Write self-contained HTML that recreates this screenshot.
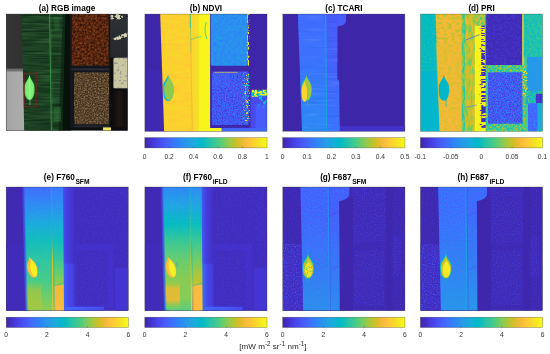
<!DOCTYPE html>
<html><head><meta charset="utf-8"><title>Figure</title>
<style>
html,body{margin:0;padding:0;background:#fff;}
body{width:550px;height:354px;overflow:hidden;position:relative;font-family:"Liberation Sans",sans-serif;}
svg{position:absolute;left:0;top:0;display:block;}
text{font-family:"Liberation Sans",sans-serif;}
.t{font-weight:bold;font-size:8.2px;fill:#000;text-anchor:middle;}
.k{font-size:6.7px;fill:#333;text-anchor:middle;}
.u{font-size:8.1px;fill:#262626;text-anchor:middle;}
</style></head><body>
<svg width="550" height="354" viewBox="0 0 550 354">
<defs>
<clipPath id="c10"><rect x="6.20" y="14.05" width="121.50" height="116.60"/></clipPath>
<clipPath id="c20"><rect x="6.20" y="187.00" width="122.20" height="123.70"/></clipPath>
<clipPath id="c11"><rect x="144.80" y="14.05" width="122.20" height="117.35"/></clipPath>
<clipPath id="c21"><rect x="144.80" y="187.00" width="122.20" height="123.70"/></clipPath>
<clipPath id="c12"><rect x="282.70" y="14.05" width="122.20" height="117.35"/></clipPath>
<clipPath id="c22"><rect x="282.70" y="187.00" width="122.20" height="123.70"/></clipPath>
<clipPath id="c13"><rect x="420.40" y="14.05" width="122.20" height="117.35"/></clipPath>
<clipPath id="c23"><rect x="420.40" y="187.00" width="122.20" height="123.70"/></clipPath>
<linearGradient id="g1" x1="0" y1="0" x2="1" y2="0"><stop offset="0.000" stop-color="#353535"/><stop offset="1.000" stop-color="#303030"/></linearGradient>
<linearGradient id="g2" x1="0" y1="0" x2="1" y2="0"><stop offset="0.000" stop-color="#a4a4a4"/><stop offset="0.500" stop-color="#a9a9a9"/><stop offset="1.000" stop-color="#adadad"/></linearGradient>
<filter id="n3" x="0" y="0" width="1" height="1" color-interpolation-filters="sRGB"><feTurbulence type="fractalNoise" baseFrequency="0.03 0.55" numOctaves="2" seed="4"/><feColorMatrix type="matrix" values="1 0 0 0 0 1 0 0 0 0 1 0 0 0 0 0 0 0 0 1"/><feComponentTransfer><feFuncR type="table" tableValues="0.078 0.078 0.078 0.078 0.078 0.086 0.094 0.102 0.110 0.124 0.137 0.151 0.165 0.165 0.165 0.165 0.165"/><feFuncG type="table" tableValues="0.188 0.188 0.188 0.188 0.188 0.203 0.218 0.232 0.247 0.270 0.292 0.315 0.337 0.337 0.337 0.337 0.337"/><feFuncB type="table" tableValues="0.102 0.102 0.102 0.102 0.102 0.110 0.118 0.125 0.133 0.148 0.163 0.177 0.192 0.192 0.192 0.192 0.192"/></feComponentTransfer><feComposite operator="in" in2="SourceGraphic"/></filter>
<filter id="n4" x="0" y="0" width="1" height="1" color-interpolation-filters="sRGB"><feTurbulence type="fractalNoise" baseFrequency="0.03 0.45" numOctaves="2" seed="9"/><feColorMatrix type="matrix" values="1 0 0 0 0 1 0 0 0 0 1 0 0 0 0 0 0 0 0 1"/><feComponentTransfer><feFuncR type="table" tableValues="0.082 0.082 0.082 0.082 0.082 0.090 0.098 0.106 0.114 0.125 0.137 0.149 0.161 0.161 0.161 0.161 0.161"/><feFuncG type="table" tableValues="0.196 0.196 0.196 0.196 0.196 0.212 0.227 0.243 0.259 0.280 0.302 0.324 0.345 0.345 0.345 0.345 0.345"/><feFuncB type="table" tableValues="0.106 0.106 0.106 0.106 0.106 0.115 0.124 0.132 0.141 0.155 0.169 0.182 0.196 0.196 0.196 0.196 0.196"/></feComponentTransfer><feComposite operator="in" in2="SourceGraphic"/></filter>
<filter id="n5" x="0" y="0" width="1" height="1" color-interpolation-filters="sRGB"><feTurbulence type="fractalNoise" baseFrequency="0.45 0.45" numOctaves="3" seed="2"/><feColorMatrix type="matrix" values="1 0 0 0 0 1 0 0 0 0 1 0 0 0 0 0 0 0 0 1"/><feComponentTransfer><feFuncR type="table" tableValues="0.173 0.173 0.173 0.173 0.201 0.237 0.273 0.309 0.345 0.383 0.420 0.458 0.495 0.525 0.525 0.525 0.525"/><feFuncG type="table" tableValues="0.067 0.067 0.067 0.067 0.080 0.098 0.115 0.132 0.149 0.171 0.193 0.215 0.237 0.255 0.255 0.255 0.255"/><feFuncB type="table" tableValues="0.027 0.027 0.027 0.027 0.033 0.039 0.046 0.052 0.059 0.072 0.085 0.098 0.111 0.122 0.122 0.122 0.122"/></feComponentTransfer><feComposite operator="in" in2="SourceGraphic"/></filter>
<filter id="n6" x="0" y="0" width="1" height="1" color-interpolation-filters="sRGB"><feTurbulence type="fractalNoise" baseFrequency="0.7 0.7" numOctaves="3" seed="5"/><feColorMatrix type="matrix" values="1 0 0 0 0 1 0 0 0 0 1 0 0 0 0 0 0 0 0 1"/><feComponentTransfer><feFuncR type="table" tableValues="0.200 0.200 0.200 0.200 0.225 0.256 0.287 0.318 0.349 0.393 0.437 0.481 0.525 0.561 0.561 0.561 0.561"/><feFuncG type="table" tableValues="0.149 0.149 0.149 0.149 0.169 0.193 0.218 0.242 0.267 0.305 0.343 0.382 0.420 0.451 0.451 0.451 0.451"/><feFuncB type="table" tableValues="0.102 0.102 0.102 0.102 0.114 0.128 0.143 0.158 0.173 0.202 0.231 0.261 0.290 0.314 0.314 0.314 0.314"/></feComponentTransfer><feComposite operator="in" in2="SourceGraphic"/></filter>
<linearGradient id="g7" x1="0" y1="0" x2="0" y2="1"><stop offset="0.000" stop-color="#2e3136"/><stop offset="1.000" stop-color="#26282d"/></linearGradient>
<filter id="s8" x="0" y="0" width="1" height="1" color-interpolation-filters="sRGB"><feTurbulence type="fractalNoise" baseFrequency="0.3 0.5" numOctaves="2" seed="7"/><feColorMatrix type="matrix" values="0 0 0 0 0.137 0 0 0 0 0.145 0 0 0 0 0.165 9.00 0 0 0 -4.50"/><feComposite operator="in" in2="SourceGraphic"/></filter>
<filter id="s9" x="0" y="0" width="1" height="1" color-interpolation-filters="sRGB"><feTurbulence type="fractalNoise" baseFrequency="0.4 0.5" numOctaves="2" seed="17"/><feColorMatrix type="matrix" values="0 0 0 0 0.149 0 0 0 0 0.157 0 0 0 0 0.176 9.00 0 0 0 -4.68"/><feComposite operator="in" in2="SourceGraphic"/></filter>
<filter id="s10" x="0" y="0" width="1" height="1" color-interpolation-filters="sRGB"><feTurbulence type="fractalNoise" baseFrequency="0.4 0.4" numOctaves="1" seed="3"/><feColorMatrix type="matrix" values="0 0 0 0 0.604 0 0 0 0 0.612 0 0 0 0 0.565 6.00 0 0 0 -3.36"/><feComposite operator="in" in2="SourceGraphic"/></filter>
<linearGradient id="g11" x1="0" y1="0" x2="1" y2="0"><stop offset="0.000" stop-color="#0c0c10"/><stop offset="0.450" stop-color="#1f1711"/><stop offset="1.000" stop-color="#0c0c10"/></linearGradient>
<clipPath id="lb"><polygon points="161.54,14.05 204.80,14.05 204.80,131.40 164.23,131.40"/></clipPath>
<filter id="n12" x="0" y="0" width="1" height="1" color-interpolation-filters="sRGB"><feTurbulence type="fractalNoise" baseFrequency="0.06 0.3" numOctaves="2" seed="3"/><feColorMatrix type="matrix" values="1 0 0 0 0 1 0 0 0 0 1 0 0 0 0 0 0 0 0 1"/><feComponentTransfer><feFuncR type="table" tableValues="0.996 0.996 0.996 0.996 0.996 0.994 0.992 0.990 0.988 0.985 0.982 0.979 0.976 0.976 0.976 0.976 0.976"/><feFuncG type="table" tableValues="0.792 0.792 0.792 0.792 0.792 0.799 0.806 0.813 0.820 0.826 0.833 0.840 0.847 0.847 0.847 0.847 0.847"/><feFuncB type="table" tableValues="0.200 0.200 0.200 0.200 0.200 0.196 0.192 0.188 0.184 0.181 0.178 0.175 0.173 0.173 0.173 0.173 0.173"/></feComponentTransfer><feComposite operator="in" in2="SourceGraphic"/></filter>
<linearGradient id="g13" x1="0" y1="0" x2="1" y2="0"><stop offset="0.000" stop-color="#fad42e"/><stop offset="0.700" stop-color="#f6de29"/><stop offset="1.000" stop-color="#f5ec22"/></linearGradient>
<filter id="n14" x="0" y="0" width="1" height="1" color-interpolation-filters="sRGB"><feTurbulence type="fractalNoise" baseFrequency="0.35 0.35" numOctaves="2" seed="6"/><feColorMatrix type="matrix" values="1 0 0 0 0 1 0 0 0 0 1 0 0 0 0 0 0 0 0 1"/><feComponentTransfer><feFuncR type="table" tableValues="0.180 0.180 0.180 0.180 0.180 0.180 0.177 0.175 0.173 0.164 0.155 0.147 0.145 0.145 0.145 0.145 0.145"/><feFuncG type="table" tableValues="0.522 0.522 0.522 0.522 0.522 0.524 0.536 0.549 0.561 0.577 0.593 0.609 0.612 0.612 0.612 0.612 0.612"/><feFuncB type="table" tableValues="0.973 0.973 0.973 0.973 0.973 0.971 0.962 0.954 0.945 0.933 0.921 0.908 0.906 0.906 0.906 0.906 0.906"/></feComponentTransfer><feComposite operator="in" in2="SourceGraphic"/></filter>
<filter id="n15" x="0" y="0" width="1" height="1" color-interpolation-filters="sRGB"><feTurbulence type="fractalNoise" baseFrequency="0.75 0.75" numOctaves="2" seed="8"/><feColorMatrix type="matrix" values="1 0 0 0 0 1 0 0 0 0 1 0 0 0 0 0 0 0 0 1"/><feComponentTransfer><feFuncR type="table" tableValues="0.271 0.271 0.271 0.271 0.271 0.273 0.275 0.277 0.278 0.257 0.236 0.215 0.194 0.184 0.184 0.184 0.184"/><feFuncG type="table" tableValues="0.212 0.212 0.212 0.212 0.225 0.252 0.279 0.306 0.333 0.372 0.410 0.449 0.487 0.506 0.506 0.506 0.506"/><feFuncB type="table" tableValues="0.827 0.827 0.827 0.827 0.842 0.873 0.903 0.934 0.965 0.968 0.972 0.975 0.979 0.980 0.980 0.980 0.980"/></feComponentTransfer><feComposite operator="in" in2="SourceGraphic"/></filter>
<filter id="s16" x="0" y="0" width="1" height="1" color-interpolation-filters="sRGB"><feTurbulence type="fractalNoise" baseFrequency="0.7 0.5" numOctaves="1" seed="5"/><feColorMatrix type="matrix" values="0 0 0 0 0.961 0 0 0 0 0.910 0 0 0 0 0.145 10.00 0 0 0 -5.00"/><feComposite operator="in" in2="SourceGraphic"/></filter>
<filter id="s17" x="0" y="0" width="1" height="1" color-interpolation-filters="sRGB"><feTurbulence type="fractalNoise" baseFrequency="0.6 0.6" numOctaves="1" seed="11"/><feColorMatrix type="matrix" values="0 0 0 0 0.980 0 0 0 0 0.831 0 0 0 0 0.180 10.00 0 0 0 -5.60"/><feComposite operator="in" in2="SourceGraphic"/></filter>
<filter id="s18" x="0" y="0" width="1" height="1" color-interpolation-filters="sRGB"><feTurbulence type="fractalNoise" baseFrequency="0.6 0.6" numOctaves="1" seed="17"/><feColorMatrix type="matrix" values="0 0 0 0 0.071 0 0 0 0 0.745 0 0 0 0 0.725 10.00 0 0 0 -5.60"/><feComposite operator="in" in2="SourceGraphic"/></filter>
<filter id="s19" x="0" y="0" width="1" height="1" color-interpolation-filters="sRGB"><feTurbulence type="fractalNoise" baseFrequency="0.4 0.5" numOctaves="1" seed="4"/><feColorMatrix type="matrix" values="0 0 0 0 0.965 0 0 0 0 0.941 0 0 0 0 0.125 9.00 0 0 0 -4.05"/><feComposite operator="in" in2="SourceGraphic"/></filter>
<filter id="s20" x="0" y="0" width="1" height="1" color-interpolation-filters="sRGB"><feTurbulence type="fractalNoise" baseFrequency="0.3 0.3" numOctaves="1" seed="9"/><feColorMatrix type="matrix" values="0 0 0 0 0.082 0 0 0 0 0.686 0 0 0 0 0.851 8.00 0 0 0 -4.00"/><feComposite operator="in" in2="SourceGraphic"/></filter>
<clipPath id="lc"><polygon points="299.20,14.05 342.70,14.05 342.70,131.40 302.01,131.40"/></clipPath>
<clipPath id="lcc"><polygon points="297.85,14.05 337.32,14.05 339.65,131.40 302.01,131.40"/></clipPath>
<linearGradient id="g21" x1="0" y1="0" x2="0" y2="1"><stop offset="0.000" stop-color="#475cfa"/><stop offset="0.500" stop-color="#4465fd"/><stop offset="1.000" stop-color="#3876fe"/></linearGradient>
<linearGradient id="g22" x1="0" y1="0" x2="0" y2="1"><stop offset="0.000" stop-color="#406cfe"/><stop offset="0.450" stop-color="#3974fe"/><stop offset="0.750" stop-color="#2f81fa"/><stop offset="1.000" stop-color="#2d8af4"/></linearGradient>
<filter id="s23" x="0" y="0" width="1" height="1" color-interpolation-filters="sRGB"><feTurbulence type="fractalNoise" baseFrequency="0.04 0.45" numOctaves="2" seed="3"/><feColorMatrix type="matrix" values="0 0 0 0 1.000 0 0 0 0 1.000 0 0 0 0 1.000 2.00 0 0 0 -1.00"/><feComposite operator="in" in2="SourceGraphic"/></filter>
<filter id="s24" x="0" y="0" width="1" height="1" color-interpolation-filters="sRGB"><feTurbulence type="fractalNoise" baseFrequency="0.04 0.45" numOctaves="2" seed="13"/><feColorMatrix type="matrix" values="0 0 0 0 0.125 0 0 0 0 0.125 0 0 0 0 0.627 2.00 0 0 0 -1.00"/><feComposite operator="in" in2="SourceGraphic"/></filter>
<clipPath id="ld"><polygon points="436.65,14.05 480.40,14.05 480.40,131.40 439.59,131.40"/></clipPath>
<filter id="n25" x="0" y="0" width="1" height="1" color-interpolation-filters="sRGB"><feTurbulence type="fractalNoise" baseFrequency="0.5 0.5" numOctaves="1" seed="2"/><feColorMatrix type="matrix" values="1 0 0 0 0 1 0 0 0 0 1 0 0 0 0 0 0 0 0 1"/><feComponentTransfer><feFuncR type="table" tableValues="0.004 0.004 0.004 0.004 0.004 0.005 0.013 0.020 0.027 0.046 0.064 0.083 0.086 0.086 0.086 0.086 0.086"/><feFuncG type="table" tableValues="0.722 0.722 0.722 0.722 0.722 0.723 0.727 0.732 0.737 0.741 0.745 0.748 0.749 0.749 0.749 0.749 0.749"/><feFuncB type="table" tableValues="0.784 0.784 0.784 0.784 0.784 0.782 0.773 0.763 0.753 0.742 0.731 0.720 0.718 0.718 0.718 0.718 0.718"/></feComponentTransfer><feComposite operator="in" in2="SourceGraphic"/></filter>
<filter id="n26" x="0" y="0" width="1" height="1" color-interpolation-filters="sRGB"><feTurbulence type="fractalNoise" baseFrequency="0.5 0.5" numOctaves="1" seed="3"/><feColorMatrix type="matrix" values="1 0 0 0 0 1 0 0 0 0 1 0 0 0 0 0 0 0 0 1"/><feComponentTransfer><feFuncR type="table" tableValues="0.039 0.039 0.039 0.039 0.039 0.037 0.029 0.020 0.012 0.009 0.007 0.004 0.004 0.004 0.004 0.004 0.004"/><feFuncG type="table" tableValues="0.706 0.706 0.706 0.706 0.706 0.707 0.710 0.714 0.718 0.720 0.723 0.725 0.725 0.725 0.725 0.725 0.725"/><feFuncB type="table" tableValues="0.824 0.824 0.824 0.824 0.824 0.822 0.815 0.807 0.800 0.793 0.785 0.778 0.776 0.776 0.776 0.776 0.776"/></feComponentTransfer><feComposite operator="in" in2="SourceGraphic"/></filter>
<filter id="n28" x="0" y="0" width="1" height="1" color-interpolation-filters="sRGB"><feTurbulence type="fractalNoise" baseFrequency="0.25 0.4" numOctaves="2" seed="5"/><feColorMatrix type="matrix" values="1 0 0 0 0 1 0 0 0 0 1 0 0 0 0 0 0 0 0 1"/><feComponentTransfer><feFuncR type="table" tableValues="0.690 0.690 0.690 0.690 0.690 0.770 0.850 0.897 0.922 0.944 0.957 0.970 0.973 0.973 0.973 0.973 0.973"/><feFuncG type="table" tableValues="0.776 0.776 0.776 0.776 0.776 0.760 0.744 0.735 0.732 0.729 0.729 0.729 0.729 0.729 0.729 0.729 0.729"/><feFuncB type="table" tableValues="0.212 0.212 0.212 0.212 0.212 0.194 0.176 0.179 0.197 0.214 0.225 0.237 0.239 0.239 0.239 0.239 0.239"/></feComponentTransfer><feComposite operator="in" in2="SourceGraphic"/></filter>
<linearGradient id="g29" x1="0" y1="0" x2="0" y2="1"><stop offset="0.000" stop-color="#eaba31"/><stop offset="1.000" stop-color="#f5ba3a"/></linearGradient>
<filter id="n30" x="0" y="0" width="1" height="1" color-interpolation-filters="sRGB"><feTurbulence type="fractalNoise" baseFrequency="0.5 0.15" numOctaves="2" seed="8"/><feColorMatrix type="matrix" values="1 0 0 0 0 1 0 0 0 0 1 0 0 0 0 0 0 0 0 1"/><feComponentTransfer><feFuncR type="table" tableValues="0.173 0.173 0.173 0.173 0.173 0.183 0.237 0.291 0.345 0.432 0.519 0.606 0.624 0.624 0.624 0.624 0.624"/><feFuncG type="table" tableValues="0.769 0.769 0.769 0.769 0.769 0.771 0.780 0.790 0.800 0.796 0.793 0.789 0.788 0.788 0.788 0.788 0.788"/><feFuncB type="table" tableValues="0.655 0.655 0.655 0.655 0.655 0.644 0.587 0.531 0.475 0.407 0.340 0.272 0.259 0.259 0.259 0.259 0.259"/></feComponentTransfer><feComposite operator="in" in2="SourceGraphic"/></filter>
<filter id="n31" x="0" y="0" width="1" height="1" color-interpolation-filters="sRGB"><feTurbulence type="fractalNoise" baseFrequency="0.45 0.12" numOctaves="2" seed="15"/><feColorMatrix type="matrix" values="1 0 0 0 0 1 0 0 0 0 1 0 0 0 0 0 0 0 0 1"/><feComponentTransfer><feFuncR type="table" tableValues="0.408 0.408 0.408 0.408 0.408 0.463 0.570 0.672 0.751 0.830 0.869 0.901 0.918 0.918 0.918 0.918 0.918"/><feFuncG type="table" tableValues="0.804 0.804 0.804 0.804 0.804 0.799 0.789 0.778 0.763 0.748 0.740 0.733 0.729 0.729 0.729 0.729 0.729"/><feFuncB type="table" tableValues="0.420 0.420 0.420 0.420 0.420 0.378 0.298 0.226 0.194 0.162 0.169 0.184 0.192 0.192 0.192 0.192 0.192"/></feComponentTransfer><feComposite operator="in" in2="SourceGraphic"/></filter>
<filter id="n32" x="0" y="0" width="1" height="1" color-interpolation-filters="sRGB"><feTurbulence type="fractalNoise" baseFrequency="0.4 0.4" numOctaves="2" seed="25"/><feColorMatrix type="matrix" values="1 0 0 0 0 1 0 0 0 0 1 0 0 0 0 0 0 0 0 1"/><feComponentTransfer><feFuncR type="table" tableValues="0.282 0.282 0.282 0.282 0.282 0.304 0.410 0.517 0.624 0.715 0.807 0.899 0.918 0.918 0.918 0.918 0.918"/><feFuncG type="table" tableValues="0.796 0.796 0.796 0.796 0.796 0.796 0.793 0.791 0.788 0.770 0.751 0.733 0.729 0.729 0.729 0.729 0.729"/><feFuncB type="table" tableValues="0.525 0.525 0.525 0.525 0.525 0.509 0.425 0.342 0.259 0.238 0.217 0.196 0.192 0.192 0.192 0.192 0.192"/></feComponentTransfer><feComposite operator="in" in2="SourceGraphic"/></filter>
<filter id="n33" x="0" y="0" width="1" height="1" color-interpolation-filters="sRGB"><feTurbulence type="fractalNoise" baseFrequency="0.3 0.3" numOctaves="1" seed="1"/><feColorMatrix type="matrix" values="1 0 0 0 0 1 0 0 0 0 1 0 0 0 0 0 0 0 0 1"/><feComponentTransfer><feFuncR type="table" tableValues="0.965 0.965 0.965 0.965 0.965 0.965 0.965 0.966 0.967 0.967 0.968 0.969 0.969 0.969 0.969 0.969 0.969"/><feFuncG type="table" tableValues="0.941 0.941 0.941 0.941 0.941 0.942 0.945 0.948 0.951 0.954 0.957 0.960 0.961 0.961 0.961 0.961 0.961"/><feFuncB type="table" tableValues="0.125 0.125 0.125 0.125 0.125 0.125 0.122 0.119 0.116 0.113 0.110 0.106 0.106 0.106 0.106 0.106 0.106"/></feComponentTransfer><feComposite operator="in" in2="SourceGraphic"/></filter>
<filter id="s34" x="0" y="0" width="1" height="1" color-interpolation-filters="sRGB"><feTurbulence type="fractalNoise" baseFrequency="0.1 0.75" numOctaves="2" seed="21"/><feColorMatrix type="matrix" values="0 0 0 0 0.965 0 0 0 0 0.949 0 0 0 0 0.118 14.00 0 0 0 -6.86"/><feComposite operator="in" in2="SourceGraphic"/></filter>
<filter id="s35" x="0" y="0" width="1" height="1" color-interpolation-filters="sRGB"><feTurbulence type="fractalNoise" baseFrequency="0.25 0.7" numOctaves="2" seed="33"/><feColorMatrix type="matrix" values="0 0 0 0 0.259 0 0 0 0 0.180 0 0 0 0 0.745 12.00 0 0 0 -7.20"/><feComposite operator="in" in2="SourceGraphic"/></filter>
<filter id="n36" x="0" y="0" width="1" height="1" color-interpolation-filters="sRGB"><feTurbulence type="fractalNoise" baseFrequency="0.45 0.45" numOctaves="2" seed="4"/><feColorMatrix type="matrix" values="1 0 0 0 0 1 0 0 0 0 1 0 0 0 0 0 0 0 0 1"/><feComponentTransfer><feFuncR type="table" tableValues="0.247 0.247 0.247 0.247 0.247 0.250 0.253 0.255 0.258 0.261 0.264 0.266 0.269 0.271 0.271 0.271 0.271"/><feFuncG type="table" tableValues="0.157 0.157 0.157 0.157 0.157 0.162 0.168 0.174 0.179 0.186 0.193 0.201 0.208 0.212 0.212 0.212 0.212"/><feFuncB type="table" tableValues="0.682 0.682 0.682 0.682 0.682 0.697 0.712 0.727 0.742 0.760 0.779 0.799 0.818 0.827 0.827 0.827 0.827"/></feComponentTransfer><feComposite operator="in" in2="SourceGraphic"/></filter>
<filter id="n37" x="0" y="0" width="1" height="1" color-interpolation-filters="sRGB"><feTurbulence type="fractalNoise" baseFrequency="0.5 0.5" numOctaves="2" seed="14"/><feColorMatrix type="matrix" values="1 0 0 0 0 1 0 0 0 0 1 0 0 0 0 0 0 0 0 1"/><feComponentTransfer><feFuncR type="table" tableValues="0.071 0.071 0.071 0.071 0.071 0.084 0.150 0.216 0.282 0.410 0.537 0.665 0.690 0.690 0.690 0.690 0.690"/><feFuncG type="table" tableValues="0.745 0.745 0.745 0.745 0.745 0.748 0.764 0.780 0.796 0.790 0.784 0.778 0.776 0.776 0.776 0.776 0.776"/><feFuncB type="table" tableValues="0.725 0.725 0.725 0.725 0.725 0.713 0.650 0.588 0.525 0.427 0.329 0.231 0.212 0.212 0.212 0.212 0.212"/></feComponentTransfer><feComposite operator="in" in2="SourceGraphic"/></filter>
<filter id="n38" x="0" y="0" width="1" height="1" color-interpolation-filters="sRGB"><feTurbulence type="fractalNoise" baseFrequency="0.75 0.75" numOctaves="2" seed="6"/><feColorMatrix type="matrix" values="1 0 0 0 0 1 0 0 0 0 1 0 0 0 0 0 0 0 0 1"/><feComponentTransfer><feFuncR type="table" tableValues="0.271 0.271 0.271 0.271 0.271 0.273 0.275 0.277 0.278 0.256 0.233 0.210 0.187 0.176 0.176 0.176 0.176"/><feFuncG type="table" tableValues="0.212 0.212 0.212 0.212 0.226 0.256 0.286 0.315 0.345 0.387 0.429 0.471 0.513 0.533 0.533 0.533 0.533"/><feFuncB type="table" tableValues="0.827 0.827 0.827 0.827 0.843 0.875 0.908 0.940 0.973 0.971 0.969 0.967 0.966 0.965 0.965 0.965 0.965"/></feComponentTransfer><feComposite operator="in" in2="SourceGraphic"/></filter>
<filter id="n39" x="0" y="0" width="1" height="1" color-interpolation-filters="sRGB"><feTurbulence type="fractalNoise" baseFrequency="0.5 0.5" numOctaves="2" seed="2"/><feColorMatrix type="matrix" values="1 0 0 0 0 1 0 0 0 0 1 0 0 0 0 0 0 0 0 1"/><feComponentTransfer><feFuncR type="table" tableValues="0.027 0.027 0.027 0.027 0.027 0.035 0.070 0.106 0.141 0.162 0.183 0.204 0.208 0.208 0.208 0.208 0.208"/><feFuncG type="table" tableValues="0.737 0.737 0.737 0.737 0.737 0.739 0.746 0.753 0.761 0.767 0.773 0.779 0.780 0.780 0.780 0.780 0.780"/><feFuncB type="table" tableValues="0.753 0.753 0.753 0.753 0.753 0.749 0.726 0.704 0.682 0.658 0.633 0.609 0.604 0.604 0.604 0.604 0.604"/></feComponentTransfer><feComposite operator="in" in2="SourceGraphic"/></filter>
<filter id="n40" x="0" y="0" width="1" height="1" color-interpolation-filters="sRGB"><feTurbulence type="fractalNoise" baseFrequency="0.5 0.5" numOctaves="2" seed="9"/><feColorMatrix type="matrix" values="1 0 0 0 0 1 0 0 0 0 1 0 0 0 0 0 0 0 0 1"/><feComponentTransfer><feFuncR type="table" tableValues="0.165 0.165 0.165 0.165 0.165 0.164 0.159 0.154 0.149 0.144 0.139 0.134 0.133 0.133 0.133 0.133 0.133"/><feFuncG type="table" tableValues="0.573 0.573 0.573 0.573 0.573 0.574 0.583 0.591 0.600 0.610 0.620 0.629 0.631 0.631 0.631 0.631 0.631"/><feFuncB type="table" tableValues="0.933 0.933 0.933 0.933 0.933 0.932 0.927 0.923 0.918 0.910 0.903 0.896 0.894 0.894 0.894 0.894 0.894"/></feComponentTransfer><feComposite operator="in" in2="SourceGraphic"/></filter>
<filter id="n41" x="0" y="0" width="1" height="1" color-interpolation-filters="sRGB"><feTurbulence type="fractalNoise" baseFrequency="0.6 0.6" numOctaves="2" seed="10"/><feColorMatrix type="matrix" values="1 0 0 0 0 1 0 0 0 0 1 0 0 0 0 0 0 0 0 1"/><feComponentTransfer><feFuncR type="table" tableValues="0.145 0.145 0.145 0.145 0.145 0.140 0.117 0.094 0.071 0.156 0.242 0.328 0.345 0.345 0.345 0.345 0.345"/><feFuncG type="table" tableValues="0.612 0.612 0.612 0.612 0.612 0.620 0.662 0.703 0.745 0.762 0.779 0.797 0.800 0.800 0.800 0.800 0.800"/><feFuncB type="table" tableValues="0.906 0.906 0.906 0.906 0.906 0.895 0.838 0.782 0.725 0.647 0.569 0.490 0.475 0.475 0.475 0.475 0.475"/></feComponentTransfer><feComposite operator="in" in2="SourceGraphic"/></filter>
<filter id="n42" x="0" y="0" width="1" height="1" color-interpolation-filters="sRGB"><feTurbulence type="fractalNoise" baseFrequency="0.5 0.5" numOctaves="2" seed="19"/><feColorMatrix type="matrix" values="1 0 0 0 0 1 0 0 0 0 1 0 0 0 0 0 0 0 0 1"/><feComponentTransfer><feFuncR type="table" tableValues="0.278 0.278 0.278 0.278 0.278 0.277 0.270 0.262 0.255 0.233 0.211 0.189 0.184 0.184 0.184 0.184 0.184"/><feFuncG type="table" tableValues="0.361 0.361 0.361 0.361 0.361 0.364 0.383 0.401 0.420 0.447 0.474 0.500 0.506 0.506 0.506 0.506 0.506"/><feFuncB type="table" tableValues="0.980 0.980 0.980 0.980 0.980 0.981 0.986 0.991 0.996 0.991 0.986 0.981 0.980 0.980 0.980 0.980 0.980"/></feComponentTransfer><feComposite operator="in" in2="SourceGraphic"/></filter>
<filter id="n43" x="0" y="0" width="1" height="1" color-interpolation-filters="sRGB"><feTurbulence type="fractalNoise" baseFrequency="0.5 0.5" numOctaves="2" seed="29"/><feColorMatrix type="matrix" values="1 0 0 0 0 1 0 0 0 0 1 0 0 0 0 0 0 0 0 1"/><feComponentTransfer><feFuncR type="table" tableValues="0.141 0.141 0.141 0.141 0.141 0.138 0.125 0.112 0.098 0.069 0.039 0.010 0.004 0.004 0.004 0.004 0.004"/><feFuncG type="table" tableValues="0.624 0.624 0.624 0.624 0.624 0.627 0.644 0.661 0.678 0.693 0.708 0.723 0.725 0.725 0.725 0.725 0.725"/><feFuncB type="table" tableValues="0.902 0.902 0.902 0.902 0.902 0.900 0.887 0.875 0.863 0.836 0.809 0.782 0.776 0.776 0.776 0.776 0.776"/></feComponentTransfer><feComposite operator="in" in2="SourceGraphic"/></filter>
<filter id="s44" x="0" y="0" width="1" height="1" color-interpolation-filters="sRGB"><feTurbulence type="fractalNoise" baseFrequency="0.6 0.6" numOctaves="1" seed="11"/><feColorMatrix type="matrix" values="0 0 0 0 0.980 0 0 0 0 0.831 0 0 0 0 0.180 10.00 0 0 0 -5.20"/><feComposite operator="in" in2="SourceGraphic"/></filter>
<linearGradient id="g45" x1="0" y1="0" x2="1" y2="0"><stop offset="0.000" stop-color="#4755f6"/><stop offset="0.450" stop-color="#463ee1"/><stop offset="1.000" stop-color="#4230c3"/></linearGradient>
<linearGradient id="g46" x1="0" y1="0" x2="1" y2="0"><stop offset="0.000" stop-color="#3b72ff"/><stop offset="0.400" stop-color="#4747eb"/><stop offset="1.000" stop-color="#4433cc"/></linearGradient>
<filter id="n47" x="0" y="0" width="1" height="1" color-interpolation-filters="sRGB"><feTurbulence type="fractalNoise" baseFrequency="0.5 0.5" numOctaves="2" seed="3"/><feColorMatrix type="matrix" values="1 0 0 0 0 1 0 0 0 0 1 0 0 0 0 0 0 0 0 1"/><feComponentTransfer><feFuncR type="table" tableValues="0.255 0.255 0.255 0.255 0.255 0.255 0.256 0.258 0.259 0.260 0.261 0.263 0.263 0.263 0.263 0.263 0.263"/><feFuncG type="table" tableValues="0.173 0.173 0.173 0.173 0.173 0.173 0.175 0.178 0.180 0.185 0.190 0.195 0.196 0.196 0.196 0.196 0.196"/><feFuncB type="table" tableValues="0.725 0.725 0.725 0.725 0.725 0.727 0.736 0.744 0.753 0.764 0.775 0.786 0.788 0.788 0.788 0.788 0.788"/></feComponentTransfer><feComposite operator="in" in2="SourceGraphic"/></filter>
<filter id="n48" x="0" y="0" width="1" height="1" color-interpolation-filters="sRGB"><feTurbulence type="fractalNoise" baseFrequency="0.7 0.7" numOctaves="2" seed="13"/><feColorMatrix type="matrix" values="1 0 0 0 0 1 0 0 0 0 1 0 0 0 0 0 0 0 0 1"/><feComponentTransfer><feFuncR type="table" tableValues="0.255 0.255 0.255 0.255 0.255 0.255 0.256 0.258 0.259 0.261 0.264 0.266 0.267 0.267 0.267 0.267 0.267"/><feFuncG type="table" tableValues="0.173 0.173 0.173 0.173 0.173 0.173 0.177 0.181 0.184 0.190 0.197 0.203 0.204 0.204 0.204 0.204 0.204"/><feFuncB type="table" tableValues="0.725 0.725 0.725 0.725 0.725 0.727 0.737 0.747 0.757 0.773 0.789 0.805 0.808 0.808 0.808 0.808 0.808"/></feComponentTransfer><feComposite operator="in" in2="SourceGraphic"/></filter>
<linearGradient id="g49" x1="0" y1="0" x2="1" y2="0"><stop offset="0.000" stop-color="#4367fd"/><stop offset="1.000" stop-color="#484aee"/></linearGradient>
<linearGradient id="g50" x1="0" y1="0" x2="0" y2="1"><stop offset="0.000" stop-color="#406cfe"/><stop offset="0.150" stop-color="#2d8cf3"/><stop offset="0.300" stop-color="#1aabdd"/><stop offset="0.450" stop-color="#12beb9"/><stop offset="0.600" stop-color="#31c6a0"/><stop offset="0.750" stop-color="#44cb89"/><stop offset="0.900" stop-color="#71cd64"/><stop offset="1.000" stop-color="#8dcb4f"/></linearGradient>
<linearGradient id="g51" x1="0" y1="0" x2="0" y2="1"><stop offset="0.000" stop-color="#9fc942" stop-opacity="0.00"/><stop offset="0.300" stop-color="#c4c22a" stop-opacity="0.50"/><stop offset="0.800" stop-color="#c4c22a" stop-opacity="0.50"/><stop offset="1.000" stop-color="#b0c636" stop-opacity="0.30"/></linearGradient>
<linearGradient id="g52" x1="0" y1="0" x2="0" y2="1"><stop offset="0.000" stop-color="#3876fe"/><stop offset="0.150" stop-color="#2c8ff1"/><stop offset="0.300" stop-color="#19addc"/><stop offset="0.450" stop-color="#12beb9"/><stop offset="0.600" stop-color="#39c895"/><stop offset="0.700" stop-color="#68cd6b"/><stop offset="0.790" stop-color="#96ca48"/><stop offset="0.795" stop-color="#f0ba36"/><stop offset="1.000" stop-color="#fabb3d"/></linearGradient>
<linearGradient id="g53" x1="0" y1="0" x2="0" y2="1"><stop offset="0.000" stop-color="#484aee"/><stop offset="1.000" stop-color="#2d8cf3"/></linearGradient>
<filter id="s54" x="0" y="0" width="1" height="1" color-interpolation-filters="sRGB"><feTurbulence type="fractalNoise" baseFrequency="0.8 0.8" numOctaves="1" seed="5"/><feColorMatrix type="matrix" values="0 0 0 0 1.000 0 0 0 0 1.000 0 0 0 0 1.000 0.90 0 0 0 -0.45"/><feComposite operator="in" in2="SourceGraphic"/></filter>
<linearGradient id="g55" x1="0" y1="0" x2="0" y2="1"><stop offset="0.000" stop-color="#2895ec"/><stop offset="0.400" stop-color="#21c1b0"/><stop offset="0.600" stop-color="#d0c027"/><stop offset="1.000" stop-color="#fec835"/></linearGradient>
<linearGradient id="g56" x1="0" y1="0" x2="1" y2="0"><stop offset="0.000" stop-color="#416bfe"/><stop offset="0.450" stop-color="#463ee1"/><stop offset="1.000" stop-color="#4230c3"/></linearGradient>
<linearGradient id="g57" x1="0" y1="0" x2="1" y2="0"><stop offset="0.000" stop-color="#2d88f6"/><stop offset="0.400" stop-color="#4747eb"/><stop offset="1.000" stop-color="#4433cc"/></linearGradient>
<filter id="n58" x="0" y="0" width="1" height="1" color-interpolation-filters="sRGB"><feTurbulence type="fractalNoise" baseFrequency="0.5 0.5" numOctaves="2" seed="4"/><feColorMatrix type="matrix" values="1 0 0 0 0 1 0 0 0 0 1 0 0 0 0 0 0 0 0 1"/><feComponentTransfer><feFuncR type="table" tableValues="0.255 0.255 0.255 0.255 0.255 0.255 0.256 0.258 0.259 0.260 0.261 0.263 0.263 0.263 0.263 0.263 0.263"/><feFuncG type="table" tableValues="0.173 0.173 0.173 0.173 0.173 0.173 0.175 0.178 0.180 0.185 0.190 0.195 0.196 0.196 0.196 0.196 0.196"/><feFuncB type="table" tableValues="0.725 0.725 0.725 0.725 0.725 0.727 0.736 0.744 0.753 0.764 0.775 0.786 0.788 0.788 0.788 0.788 0.788"/></feComponentTransfer><feComposite operator="in" in2="SourceGraphic"/></filter>
<filter id="n59" x="0" y="0" width="1" height="1" color-interpolation-filters="sRGB"><feTurbulence type="fractalNoise" baseFrequency="0.7 0.7" numOctaves="2" seed="14"/><feColorMatrix type="matrix" values="1 0 0 0 0 1 0 0 0 0 1 0 0 0 0 0 0 0 0 1"/><feComponentTransfer><feFuncR type="table" tableValues="0.255 0.255 0.255 0.255 0.255 0.255 0.256 0.258 0.259 0.261 0.264 0.266 0.267 0.267 0.267 0.267 0.267"/><feFuncG type="table" tableValues="0.173 0.173 0.173 0.173 0.173 0.173 0.177 0.181 0.184 0.190 0.197 0.203 0.204 0.204 0.204 0.204 0.204"/><feFuncB type="table" tableValues="0.725 0.725 0.725 0.725 0.725 0.727 0.737 0.747 0.757 0.773 0.789 0.805 0.808 0.808 0.808 0.808 0.808"/></feComponentTransfer><feComposite operator="in" in2="SourceGraphic"/></filter>
<linearGradient id="g60" x1="0" y1="0" x2="1" y2="0"><stop offset="0.000" stop-color="#4367fd"/><stop offset="1.000" stop-color="#484aee"/></linearGradient>
<linearGradient id="g61" x1="0" y1="0" x2="0" y2="1"><stop offset="0.000" stop-color="#2d88f6"/><stop offset="0.150" stop-color="#20a4e3"/><stop offset="0.300" stop-color="#04bbc2"/><stop offset="0.450" stop-color="#3bc992"/><stop offset="0.600" stop-color="#68cd6b"/><stop offset="0.750" stop-color="#88cb53"/><stop offset="0.900" stop-color="#84cc56"/><stop offset="1.000" stop-color="#58cc79"/></linearGradient>
<linearGradient id="g62" x1="0" y1="0" x2="0" y2="1"><stop offset="0.000" stop-color="#b0c636" stop-opacity="0.00"/><stop offset="0.250" stop-color="#eaba31" stop-opacity="0.90"/><stop offset="0.650" stop-color="#eaba31" stop-opacity="0.90"/><stop offset="0.900" stop-color="#9fc942" stop-opacity="0.20"/><stop offset="1.000" stop-color="#58cc79" stop-opacity="0.00"/></linearGradient>
<linearGradient id="g63" x1="0" y1="0" x2="0" y2="1"><stop offset="0.000" stop-color="#2d8cf3"/><stop offset="0.150" stop-color="#1ea7e1"/><stop offset="0.300" stop-color="#0abdbd"/><stop offset="0.450" stop-color="#3bc992"/><stop offset="0.600" stop-color="#76cc61"/><stop offset="0.700" stop-color="#a8c73b"/><stop offset="0.790" stop-color="#c4c22a"/><stop offset="0.795" stop-color="#f8ba3d"/><stop offset="1.000" stop-color="#fdbd3d"/></linearGradient>
<linearGradient id="g64" x1="0" y1="0" x2="0" y2="1"><stop offset="0.000" stop-color="#484aee"/><stop offset="1.000" stop-color="#2d8cf3"/></linearGradient>
<filter id="s65" x="0" y="0" width="1" height="1" color-interpolation-filters="sRGB"><feTurbulence type="fractalNoise" baseFrequency="0.8 0.8" numOctaves="1" seed="6"/><feColorMatrix type="matrix" values="0 0 0 0 1.000 0 0 0 0 1.000 0 0 0 0 1.000 0.90 0 0 0 -0.45"/><feComposite operator="in" in2="SourceGraphic"/></filter>
<linearGradient id="g66" x1="0" y1="0" x2="0" y2="1"><stop offset="0.000" stop-color="#1ea7e1"/><stop offset="0.400" stop-color="#3bc992"/><stop offset="0.600" stop-color="#d0c027"/><stop offset="1.000" stop-color="#fec835"/></linearGradient>
<clipPath id="lf2"><polygon points="300.42,187.00 339.40,187.00 339.65,310.70 303.23,310.70"/></clipPath>
<clipPath id="lf3"><polygon points="438.12,187.00 477.10,187.00 477.35,310.70 440.93,310.70"/></clipPath>
<filter id="n67" x="0" y="0" width="1" height="1" color-interpolation-filters="sRGB"><feTurbulence type="fractalNoise" baseFrequency="0.9 0.9" numOctaves="1" seed="5"/><feColorMatrix type="matrix" values="1 0 0 0 0 1 0 0 0 0 1 0 0 0 0 0 0 0 0 1"/><feComponentTransfer><feFuncR type="table" tableValues="0.243 0.243 0.243 0.243 0.243 0.243 0.245 0.247 0.249 0.251 0.255 0.259 0.263 0.267 0.267 0.267 0.267"/><feFuncG type="table" tableValues="0.153 0.153 0.153 0.153 0.153 0.153 0.157 0.161 0.165 0.169 0.178 0.187 0.197 0.204 0.204 0.204 0.204"/><feFuncB type="table" tableValues="0.671 0.671 0.671 0.671 0.671 0.671 0.681 0.694 0.706 0.719 0.744 0.770 0.795 0.816 0.816 0.816 0.816"/></feComponentTransfer><feComposite operator="in" in2="SourceGraphic"/></filter>
<filter id="n68" x="0" y="0" width="1" height="1" color-interpolation-filters="sRGB"><feTurbulence type="fractalNoise" baseFrequency="0.9 0.9" numOctaves="1" seed="9"/><feColorMatrix type="matrix" values="1 0 0 0 0 1 0 0 0 0 1 0 0 0 0 0 0 0 0 1"/><feComponentTransfer><feFuncR type="table" tableValues="0.247 0.247 0.247 0.247 0.247 0.248 0.252 0.257 0.261 0.266 0.271 0.277 0.282 0.282 0.282 0.282 0.282"/><feFuncG type="table" tableValues="0.161 0.161 0.161 0.161 0.161 0.163 0.173 0.182 0.192 0.214 0.245 0.275 0.306 0.306 0.306 0.306 0.306"/><feFuncB type="table" tableValues="0.690 0.690 0.690 0.690 0.690 0.696 0.723 0.750 0.777 0.814 0.858 0.902 0.945 0.945 0.945 0.945 0.945"/></feComponentTransfer><feComposite operator="in" in2="SourceGraphic"/></filter>
<filter id="n69" x="0" y="0" width="1" height="1" color-interpolation-filters="sRGB"><feTurbulence type="fractalNoise" baseFrequency="0.9 0.9" numOctaves="1" seed="11"/><feColorMatrix type="matrix" values="1 0 0 0 0 1 0 0 0 0 1 0 0 0 0 0 0 0 0 1"/><feComponentTransfer><feFuncR type="table" tableValues="0.247 0.247 0.247 0.247 0.247 0.247 0.250 0.253 0.256 0.259 0.263 0.267 0.271 0.275 0.275 0.275 0.275"/><feFuncG type="table" tableValues="0.161 0.161 0.161 0.161 0.161 0.161 0.165 0.170 0.175 0.181 0.197 0.214 0.230 0.243 0.243 0.243 0.243"/><feFuncB type="table" tableValues="0.694 0.694 0.694 0.694 0.694 0.694 0.706 0.719 0.732 0.747 0.782 0.818 0.854 0.882 0.882 0.882 0.882"/></feComponentTransfer><feComposite operator="in" in2="SourceGraphic"/></filter>
<filter id="n70" x="0" y="0" width="1" height="1" color-interpolation-filters="sRGB"><feTurbulence type="fractalNoise" baseFrequency="0.7 0.7" numOctaves="1" seed="4"/><feColorMatrix type="matrix" values="1 0 0 0 0 1 0 0 0 0 1 0 0 0 0 0 0 0 0 1"/><feComponentTransfer><feFuncR type="table" tableValues="0.278 0.278 0.278 0.278 0.278 0.278 0.275 0.273 0.271 0.261 0.251 0.241 0.239 0.239 0.239 0.239 0.239"/><feFuncG type="table" tableValues="0.341 0.341 0.341 0.341 0.341 0.344 0.359 0.374 0.388 0.404 0.420 0.436 0.439 0.439 0.439 0.439 0.439"/><feFuncB type="table" tableValues="0.969 0.969 0.969 0.969 0.969 0.970 0.977 0.985 0.992 0.995 0.997 1.000 1.000 1.000 1.000 1.000 1.000"/></feComponentTransfer><feComposite operator="in" in2="SourceGraphic"/></filter>
<filter id="n71" x="0" y="0" width="1" height="1" color-interpolation-filters="sRGB"><feTurbulence type="fractalNoise" baseFrequency="0.7 0.7" numOctaves="1" seed="6"/><feColorMatrix type="matrix" values="1 0 0 0 0 1 0 0 0 0 1 0 0 0 0 0 0 0 0 1"/><feComponentTransfer><feFuncR type="table" tableValues="0.278 0.278 0.278 0.278 0.278 0.277 0.273 0.268 0.263 0.249 0.236 0.222 0.220 0.220 0.220 0.220 0.220"/><feFuncG type="table" tableValues="0.353 0.353 0.353 0.353 0.353 0.356 0.372 0.388 0.404 0.422 0.441 0.459 0.463 0.463 0.463 0.463 0.463"/><feFuncB type="table" tableValues="0.976 0.976 0.976 0.976 0.976 0.977 0.982 0.987 0.992 0.993 0.995 0.996 0.996 0.996 0.996 0.996 0.996"/></feComponentTransfer><feComposite operator="in" in2="SourceGraphic"/></filter>
<linearGradient id="g72" x1="0" y1="0" x2="0" y2="1"><stop offset="0.000" stop-color="#2d8cf3" stop-opacity="0.00"/><stop offset="0.500" stop-color="#2a92ee" stop-opacity="0.40"/><stop offset="1.000" stop-color="#249fe6" stop-opacity="0.70"/></linearGradient>
<filter id="s73" x="0" y="0" width="1" height="1" color-interpolation-filters="sRGB"><feTurbulence type="fractalNoise" baseFrequency="0.8 0.8" numOctaves="1" seed="41"/><feColorMatrix type="matrix" values="0 0 0 0 0.345 0 0 0 0 0.800 0 0 0 0 0.475 6.00 0 0 0 -3.00"/><feComposite operator="in" in2="SourceGraphic"/></filter>
<filter id="n74" x="0" y="0" width="1" height="1" color-interpolation-filters="sRGB"><feTurbulence type="fractalNoise" baseFrequency="0.9 0.9" numOctaves="1" seed="6"/><feColorMatrix type="matrix" values="1 0 0 0 0 1 0 0 0 0 1 0 0 0 0 0 0 0 0 1"/><feComponentTransfer><feFuncR type="table" tableValues="0.243 0.243 0.243 0.243 0.243 0.243 0.245 0.247 0.249 0.251 0.255 0.259 0.263 0.267 0.267 0.267 0.267"/><feFuncG type="table" tableValues="0.153 0.153 0.153 0.153 0.153 0.153 0.157 0.161 0.165 0.169 0.178 0.187 0.197 0.204 0.204 0.204 0.204"/><feFuncB type="table" tableValues="0.671 0.671 0.671 0.671 0.671 0.671 0.681 0.694 0.706 0.719 0.744 0.770 0.795 0.816 0.816 0.816 0.816"/></feComponentTransfer><feComposite operator="in" in2="SourceGraphic"/></filter>
<filter id="n75" x="0" y="0" width="1" height="1" color-interpolation-filters="sRGB"><feTurbulence type="fractalNoise" baseFrequency="0.9 0.9" numOctaves="1" seed="10"/><feColorMatrix type="matrix" values="1 0 0 0 0 1 0 0 0 0 1 0 0 0 0 0 0 0 0 1"/><feComponentTransfer><feFuncR type="table" tableValues="0.247 0.247 0.247 0.247 0.247 0.248 0.252 0.257 0.261 0.266 0.271 0.277 0.282 0.282 0.282 0.282 0.282"/><feFuncG type="table" tableValues="0.161 0.161 0.161 0.161 0.161 0.163 0.173 0.182 0.192 0.214 0.245 0.275 0.306 0.306 0.306 0.306 0.306"/><feFuncB type="table" tableValues="0.690 0.690 0.690 0.690 0.690 0.696 0.723 0.750 0.777 0.814 0.858 0.902 0.945 0.945 0.945 0.945 0.945"/></feComponentTransfer><feComposite operator="in" in2="SourceGraphic"/></filter>
<filter id="n76" x="0" y="0" width="1" height="1" color-interpolation-filters="sRGB"><feTurbulence type="fractalNoise" baseFrequency="0.9 0.9" numOctaves="1" seed="12"/><feColorMatrix type="matrix" values="1 0 0 0 0 1 0 0 0 0 1 0 0 0 0 0 0 0 0 1"/><feComponentTransfer><feFuncR type="table" tableValues="0.247 0.247 0.247 0.247 0.247 0.247 0.250 0.253 0.256 0.259 0.263 0.267 0.271 0.275 0.275 0.275 0.275"/><feFuncG type="table" tableValues="0.161 0.161 0.161 0.161 0.161 0.161 0.165 0.170 0.175 0.181 0.197 0.214 0.230 0.243 0.243 0.243 0.243"/><feFuncB type="table" tableValues="0.694 0.694 0.694 0.694 0.694 0.694 0.706 0.719 0.732 0.747 0.782 0.818 0.854 0.882 0.882 0.882 0.882"/></feComponentTransfer><feComposite operator="in" in2="SourceGraphic"/></filter>
<filter id="n77" x="0" y="0" width="1" height="1" color-interpolation-filters="sRGB"><feTurbulence type="fractalNoise" baseFrequency="0.7 0.7" numOctaves="1" seed="5"/><feColorMatrix type="matrix" values="1 0 0 0 0 1 0 0 0 0 1 0 0 0 0 0 0 0 0 1"/><feComponentTransfer><feFuncR type="table" tableValues="0.275 0.275 0.275 0.275 0.275 0.273 0.266 0.258 0.251 0.236 0.222 0.207 0.204 0.204 0.204 0.204 0.204"/><feFuncG type="table" tableValues="0.373 0.373 0.373 0.373 0.373 0.376 0.392 0.408 0.424 0.441 0.458 0.475 0.478 0.478 0.478 0.478 0.478"/><feFuncB type="table" tableValues="0.984 0.984 0.984 0.984 0.984 0.985 0.989 0.992 0.996 0.995 0.994 0.992 0.992 0.992 0.992 0.992 0.992"/></feComponentTransfer><feComposite operator="in" in2="SourceGraphic"/></filter>
<filter id="n78" x="0" y="0" width="1" height="1" color-interpolation-filters="sRGB"><feTurbulence type="fractalNoise" baseFrequency="0.7 0.7" numOctaves="1" seed="7"/><feColorMatrix type="matrix" values="1 0 0 0 0 1 0 0 0 0 1 0 0 0 0 0 0 0 0 1"/><feComponentTransfer><feFuncR type="table" tableValues="0.271 0.271 0.271 0.271 0.271 0.269 0.259 0.249 0.239 0.223 0.207 0.191 0.188 0.188 0.188 0.188 0.188"/><feFuncG type="table" tableValues="0.388 0.388 0.388 0.388 0.388 0.391 0.407 0.423 0.439 0.459 0.478 0.498 0.502 0.502 0.502 0.502 0.502"/><feFuncB type="table" tableValues="0.992 0.992 0.992 0.992 0.992 0.993 0.995 0.998 1.000 0.995 0.990 0.985 0.984 0.984 0.984 0.984 0.984"/></feComponentTransfer><feComposite operator="in" in2="SourceGraphic"/></filter>
<linearGradient id="g79" x1="0" y1="0" x2="0" y2="1"><stop offset="0.000" stop-color="#2994ed" stop-opacity="0.00"/><stop offset="0.500" stop-color="#269ae8" stop-opacity="0.40"/><stop offset="1.000" stop-color="#1fa6e2" stop-opacity="0.70"/></linearGradient>
<linearGradient id="g80" x1="0" y1="0" x2="1" y2="0"><stop offset="0.000" stop-color="#3e26a8"/><stop offset="0.032" stop-color="#422ec0"/><stop offset="0.065" stop-color="#4537d6"/><stop offset="0.097" stop-color="#4742e6"/><stop offset="0.129" stop-color="#484df1"/><stop offset="0.161" stop-color="#4759f8"/><stop offset="0.194" stop-color="#4464fd"/><stop offset="0.226" stop-color="#3d71ff"/><stop offset="0.258" stop-color="#317dfc"/><stop offset="0.290" stop-color="#2d88f6"/><stop offset="0.323" stop-color="#2a93ed"/><stop offset="0.355" stop-color="#259de7"/><stop offset="0.387" stop-color="#1ea6e1"/><stop offset="0.419" stop-color="#15afd9"/><stop offset="0.452" stop-color="#05b6cd"/><stop offset="0.484" stop-color="#06bcc0"/><stop offset="0.516" stop-color="#1ec0b2"/><stop offset="0.548" stop-color="#2fc5a3"/><stop offset="0.581" stop-color="#3cc992"/><stop offset="0.613" stop-color="#52cc7e"/><stop offset="0.645" stop-color="#6dcd68"/><stop offset="0.677" stop-color="#8bcb51"/><stop offset="0.710" stop-color="#a7c73c"/><stop offset="0.742" stop-color="#c2c22c"/><stop offset="0.774" stop-color="#dabd28"/><stop offset="0.806" stop-color="#eeba34"/><stop offset="0.839" stop-color="#fdbd3d"/><stop offset="0.871" stop-color="#fec934"/><stop offset="0.903" stop-color="#fad52d"/><stop offset="0.935" stop-color="#f5e227"/><stop offset="0.968" stop-color="#f5ef20"/><stop offset="1.000" stop-color="#f9fb15"/></linearGradient>
</defs>
<g clip-path="url(#c10)">
<rect x="6.20" y="14.05" width="121.50" height="116.60" fill="#0b0e0c" />
<rect x="6.20" y="14.05" width="19.44" height="55.97" fill="url(#g1)" />
<rect x="6.20" y="70.02" width="19.44" height="60.63" fill="url(#g2)" />
<rect x="6.20" y="68.62" width="19.44" height="2.80" fill="#6e6e6e" />
<polygon points="21.75,14.05 49.58,14.05 51.40,130.65 24.18,130.65" fill="#000" filter="url(#n3)" />
<polygon points="49.58,14.05 65.25,14.05 62.21,130.65 51.40,130.65" fill="#000" filter="url(#n4)" />
<polygon points="62.82,14.05 65.86,14.05 62.82,130.65 58.57,130.65" fill="#0c2413" opacity="0.75"/>
<polygon points="65.86,14.05 71.20,14.05 71.20,130.65 62.82,130.65" fill="#07120b" />
<line x1="49.58" y1="14.05" x2="51.40" y2="130.65" stroke="#3f9e4a" stroke-width="0.90" />
<line x1="51.03" y1="14.05" x2="52.86" y2="130.65" stroke="#2f8a3c" stroke-width="0.80" opacity="0.35"/>
<rect x="53.59" y="107.33" width="7.29" height="13.99" fill="#4fa552" opacity="0.3"/>
<rect x="53.59" y="16.38" width="6.07" height="13.99" fill="#4fa552" opacity="0.2"/>
<rect x="69.74" y="14.05" width="40.70" height="114.27" fill="#14161d" />
<rect x="71.81" y="14.05" width="36.81" height="51.54" fill="#000" filter="url(#n5)" />
<rect x="71.20" y="68.50" width="38.03" height="1.75" fill="#2b2e3a" />
<rect x="74.00" y="72.35" width="34.99" height="51.89" fill="#000" filter="url(#n6)" />
<rect x="74.00" y="125.64" width="34.99" height="1.40" fill="#262833" />
<rect x="110.20" y="14.05" width="17.50" height="43.61" fill="url(#g7)" />
<rect x="110.69" y="14.05" width="12.15" height="5.25" fill="#cfccae" />
<rect x="110.69" y="14.05" width="17.01" height="5.83" fill="#000" filter="url(#s8)" />
<polygon points="112.51,39.12 119.20,35.62 127.70,32.12 127.70,36.20 121.62,39.12 115.55,40.28" fill="#d2cfb2" />
<rect x="111.91" y="31.54" width="15.79" height="9.33" fill="#000" filter="url(#s9)" />
<rect x="113.48" y="57.66" width="17.86" height="30.90" rx="1.5" fill="#c9c7a2"/>
<rect x="113.48" y="57.66" width="14.22" height="30.90" fill="#000" filter="url(#s10)" />
<rect x="110.45" y="88.56" width="17.25" height="42.09" fill="#0c0c10" />
<rect x="112.88" y="91.01" width="13.61" height="36.15" fill="url(#g11)" />
<rect x="103.04" y="127.39" width="7.90" height="3.26" fill="#f3e85a" />
<path d="M29.53 74.45 C29.94 79.56 34.63 81.34 34.63 88.49 C34.63 95.39 32.59 99.98 29.83 99.98 C26.47 99.98 24.42 95.39 24.42 88.49 C24.42 81.34 29.12 79.56 29.53 74.45 Z" fill="#62dc5e" />
<path d="M29.53 75.45 C29.86 80.16 33.63 81.80 33.63 88.39 C33.63 94.75 31.99 98.98 29.83 98.98 C27.07 98.98 25.42 94.75 25.42 88.39 C25.42 81.80 29.20 80.16 29.53 75.45 Z" fill="#84f47c" opacity="0.8"/>
<line x1="29.53" y1="75.85" x2="30.01" y2="105.00" stroke="#b4ffac" stroke-width="0.50" />
<rect x="24.18" y="73.17" width="12.60" height="33.20" fill="none" stroke="#8c1c1c" stroke-width="0.6"/>
</g>
<g clip-path="url(#c11)">
<rect x="144.80" y="14.05" width="122.20" height="117.35" fill="#3e26a8" />
<rect x="144.80" y="70.38" width="20.77" height="61.02" fill="#3f29b1" />
<polygon points="160.20,14.05 193.68,14.05 193.68,131.40 164.11,131.40" fill="#000" filter="url(#n12)" />
<polygon points="190.62,14.05 201.01,14.05 201.01,131.40 192.70,131.40" fill="url(#g13)" />
<polygon points="199.18,14.05 210.30,14.05 210.30,127.88 221.79,127.88 221.79,131.40 199.18,131.40" fill="#f7f51b" />
<line x1="190.14" y1="14.05" x2="192.34" y2="131.40" stroke="#f5ba3a" stroke-width="1.00" />
<line x1="190.14" y1="14.05" x2="190.50" y2="28.13" stroke="#3bc992" stroke-width="1.00" />
<line x1="190.50" y1="28.13" x2="191.11" y2="52.78" stroke="#8dcb4f" stroke-width="0.70" />
<line x1="190.99" y1="39.51" x2="201.01" y2="36.35" stroke="#2fc5a2" stroke-width="0.60" />
<path d="M206.27 22.26 q-3 8 0.8 17" fill="none" stroke="#12beb9" stroke-width="0.7"/>
<rect x="210.30" y="14.05" width="56.70" height="113.83" fill="#3e26a8" />
<rect x="210.79" y="8.18" width="37.27" height="57.50" rx="1.6" fill="#000" filter="url(#n14)"/>
<rect x="211.89" y="71.55" width="36.66" height="53.39" rx="1.2" fill="#000" filter="url(#n15)"/>
<rect x="212.62" y="72.72" width="17.72" height="14.08" fill="#3f6eff" opacity="0.25"/>
<rect x="214.45" y="71.90" width="23.22" height="0.82" fill="#fad42e" opacity="0.7"/>
<rect x="247.20" y="14.05" width="2.20" height="51.63" fill="#000" filter="url(#s16)" />
<rect x="244.39" y="72.72" width="5.50" height="50.46" fill="#000" filter="url(#s17)" />
<rect x="242.56" y="72.72" width="7.33" height="50.46" fill="#000" filter="url(#s18)" />
<rect x="250.50" y="91.50" width="16.50" height="36.38" fill="#484aee" />
<rect x="255.39" y="104.41" width="11.61" height="23.47" fill="#475cfa" />
<rect x="251.73" y="90.33" width="15.28" height="5.87" fill="#05b6ce" />
<rect x="251.73" y="89.74" width="15.28" height="7.04" fill="#000" filter="url(#s19)" />
<rect x="258.45" y="96.19" width="8.55" height="11.74" fill="#000" filter="url(#s20)" />
<rect x="221.79" y="127.88" width="45.21" height="3.52" fill="#4367fd" />
<g clip-path="url(#lb)">
<path d="M168.02 74.34 C168.47 79.68 173.65 81.55 173.65 89.02 C173.65 96.23 171.40 101.04 168.32 101.04 C164.64 101.04 162.39 96.23 162.39 89.02 C162.39 81.55 167.57 79.68 168.02 74.34 Z" fill="#15afd9" />
<path d="M169.00 75.14 C169.38 80.16 173.83 81.91 173.83 88.94 C173.83 95.72 171.90 100.24 169.30 100.24 C166.10 100.24 164.16 95.72 164.16 88.94 C164.16 81.91 168.61 80.16 169.00 75.14 Z" fill="#8dcb4f" />
</g>
</g>
<g clip-path="url(#c12)">
<rect x="282.70" y="14.05" width="122.20" height="117.35" fill="#3e26a8" />
<rect x="338.91" y="126.12" width="65.99" height="5.28" fill="#4332c9" />
<path d="M324.25 14.05 L346.00 14.05 L346.00 21.09 Q345.63 25.79 337.57 26.37 L337.20 78.59 L339.16 80.94 L339.77 131.40 L324.25 131.40 L324.25 14.05 Z" fill="url(#g21)"/>
<polygon points="297.85,14.05 325.71,14.05 326.69,131.40 302.01,131.40" fill="url(#g22)" />
<polygon points="297.85,14.05 340.13,14.05 340.13,131.40 302.01,131.40" fill="#000" filter="url(#s23)" opacity="0.12" clip-path="url(#lcc)"/>
<polygon points="297.85,14.05 340.13,14.05 340.13,131.40 302.01,131.40" fill="#000" filter="url(#s24)" opacity="0.12" clip-path="url(#lcc)"/>
<line x1="325.71" y1="14.05" x2="326.69" y2="131.40" stroke="#11b1d6" stroke-width="0.80" />
<g clip-path="url(#lc)">
<path d="M306.16 74.44 C306.60 79.74 311.69 81.59 311.69 89.01 C311.69 96.17 309.48 100.94 306.46 100.94 C302.84 100.94 300.63 96.17 300.63 89.01 C300.63 81.59 305.72 79.74 306.16 74.44 Z" fill="#05b6ce" />
<path d="M306.65 75.04 C307.05 80.10 311.58 81.87 311.58 88.95 C311.58 95.78 309.61 100.34 306.95 100.34 C303.69 100.34 301.72 95.78 301.72 88.95 C301.72 81.87 306.26 80.10 306.65 75.04 Z" fill="#9fc942" />
<path d="M304.45 80.56 C304.69 84.82 307.38 86.31 307.38 92.27 C307.38 98.02 306.21 101.86 304.75 101.86 C302.69 101.86 301.52 98.02 301.52 92.27 C301.52 86.31 304.22 84.82 304.45 80.56 Z" fill="#fad42e" />
<line x1="307.51" y1="84.46" x2="307.87" y2="106.76" stroke="#48cb86" stroke-width="0.50" />
</g>
</g>
<g clip-path="url(#c13)">
<rect x="420.40" y="14.05" width="122.20" height="117.35" fill="#48cb86" />
<rect x="420.40" y="14.05" width="20.77" height="56.33" fill="#000" filter="url(#n25)" />
<rect x="420.40" y="70.38" width="20.77" height="61.02" fill="#000" filter="url(#n26)" />
<polygon points="435.55,14.05 462.56,14.05 462.56,131.40 439.59,131.40" fill="#000" filter="url(#n28)" />
<polygon points="435.55,43.39 462.56,43.39 462.56,131.40 439.59,131.40" fill="url(#g29)" opacity="0.45"/>
<rect x="461.70" y="14.05" width="3.67" height="117.35" fill="#000" filter="url(#n30)" />
<rect x="465.13" y="14.05" width="11.49" height="117.35" fill="#000" filter="url(#n31)" />
<rect x="474.17" y="14.05" width="12.22" height="11.73" fill="#000" filter="url(#n32)" />
<rect x="474.78" y="25.79" width="7.33" height="105.61" fill="#f6f21e" />
<rect x="474.78" y="126.12" width="26.27" height="5.28" fill="#f6f21e" />
<rect x="481.26" y="25.79" width="5.74" height="102.09" fill="#422ebe" />
<rect x="480.89" y="25.79" width="5.25" height="102.09" fill="#000" filter="url(#s34)" />
<rect x="479.67" y="28.13" width="1.83" height="97.40" fill="#000" filter="url(#s35)" />
<rect x="484.92" y="14.05" width="1.47" height="52.81" fill="#12beb9" />
<rect x="485.78" y="66.86" width="2.08" height="61.02" fill="#2fc5a2" />
<rect x="486.14" y="14.05" width="36.17" height="51.05" fill="#000" filter="url(#n36)" />
<rect x="522.31" y="14.05" width="1.47" height="51.63" fill="#fad42e" />
<rect x="485.78" y="65.10" width="39.71" height="66.30" fill="#000" filter="url(#n37)" />
<rect x="487.85" y="72.14" width="34.58" height="51.63" rx="1" fill="#000" filter="url(#n38)"/>
<rect x="523.78" y="14.05" width="18.82" height="42.83" fill="#000" filter="url(#n39)" />
<rect x="526.71" y="56.88" width="15.89" height="34.03" fill="#000" filter="url(#n40)" />
<rect x="525.49" y="90.91" width="17.11" height="13.50" fill="#000" filter="url(#n41)" />
<rect x="535.88" y="93.85" width="6.72" height="9.39" fill="#4433cc" />
<rect x="527.94" y="103.24" width="9.78" height="28.16" fill="#000" filter="url(#n42)" />
<rect x="537.71" y="103.24" width="4.89" height="28.16" fill="#000" filter="url(#n43)" />
<rect x="522.44" y="65.68" width="4.89" height="30.51" fill="#000" filter="url(#s44)" />
<line x1="465.61" y1="40.10" x2="479.67" y2="34.59" stroke="#4367fd" stroke-width="0.70" />
<line x1="466.22" y1="107.34" x2="476.61" y2="105.00" stroke="#347afd" stroke-width="0.60" />
<g clip-path="url(#ld)">
<path d="M443.86 74.54 C444.30 79.80 449.29 81.64 449.29 89.00 C449.29 96.10 447.12 100.84 444.16 100.84 C440.60 100.84 438.43 96.10 438.43 89.00 C438.43 81.64 443.43 79.80 443.86 74.54 Z" fill="#01b8ca" />
<line x1="445.21" y1="84.46" x2="446.31" y2="106.76" stroke="#01b8ca" stroke-width="0.60" />
</g>
</g>
<g clip-path="url(#c20)">
<rect x="6.20" y="187.00" width="122.20" height="123.70" fill="#422ebe" />
<rect x="6.20" y="187.00" width="24.44" height="123.70" fill="#402ab3" />
<rect x="6.20" y="242.66" width="24.44" height="68.04" fill="#412cba" />
<rect x="61.19" y="187.00" width="13.44" height="123.70" fill="url(#g45)" />
<rect x="61.19" y="263.69" width="18.33" height="47.01" fill="url(#g46)" />
<rect x="74.63" y="187.00" width="53.77" height="123.70" fill="#000" filter="url(#n47)" />
<rect x="74.63" y="243.90" width="39.10" height="64.32" fill="#4434d0" opacity="0.6"/>
<rect x="76.47" y="250.71" width="31.16" height="55.05" fill="#000" filter="url(#n48)" />
<rect x="114.96" y="268.02" width="13.44" height="42.68" fill="#4435d2" />
<rect x="64.86" y="306.74" width="39.10" height="3.96" fill="url(#g49)" />
<polygon points="23.55,187.00 52.03,187.00 53.25,310.70 26.97,310.70" fill="url(#g50)" />
<polygon points="25.75,281.01 41.03,281.01 41.64,310.70 26.97,310.70" fill="url(#g51)" />
<polygon points="51.41,187.00 63.02,187.00 64.00,310.70 53.86,310.70" fill="url(#g52)" />
<polygon points="22.09,187.00 24.53,187.00 27.95,310.70 25.51,310.70" fill="url(#g53)" opacity="0.6"/>
<polygon points="24.53,187.00 63.02,187.00 64.00,310.70 26.97,310.70" fill="#000" filter="url(#s54)" opacity="0.28"/>
<polygon points="50.93,187.00 51.90,187.00 53.74,310.70 52.51,310.70" fill="url(#g55)" />
<line x1="53.25" y1="242.66" x2="54.84" y2="310.70" stroke="#12beb9" stroke-width="0.45" />
<line x1="54.47" y1="285.96" x2="63.63" y2="282.87" stroke="#05b6ce" stroke-width="0.50" />
<g transform="rotate(-14 31.86 266.79)">
<path d="M31.86 255.65 C32.25 260.11 36.66 261.67 36.66 267.90 C36.66 273.91 34.74 277.92 31.86 277.92 C28.98 277.92 27.06 273.91 27.06 267.90 C27.06 261.67 31.48 260.11 31.86 255.65 Z" fill="#fdbd3d"/>
<path d="M33.06 258.13 C33.31 261.96 36.16 263.30 36.16 268.67 C36.16 273.85 34.92 277.30 33.06 277.30 C31.20 277.30 29.96 273.85 29.96 268.67 C29.96 263.30 32.81 261.96 33.06 258.13 Z" fill="#f6f020"/>
</g>
<line x1="38.22" y1="261.84" x2="38.46" y2="267.40" stroke="#2d8cf3" stroke-width="0.50" />
<line x1="31.25" y1="277.30" x2="31.86" y2="285.96" stroke="#9fc942" stroke-width="0.50" />
</g>
<g clip-path="url(#c21)">
<rect x="144.80" y="187.00" width="122.20" height="123.70" fill="#422ebe" />
<rect x="144.80" y="187.00" width="24.44" height="123.70" fill="#402ab3" />
<rect x="144.80" y="242.66" width="24.44" height="68.04" fill="#412cba" />
<rect x="199.79" y="187.00" width="13.44" height="123.70" fill="url(#g56)" />
<rect x="199.79" y="263.69" width="18.33" height="47.01" fill="url(#g57)" />
<rect x="213.23" y="187.00" width="53.77" height="123.70" fill="#000" filter="url(#n58)" />
<rect x="213.23" y="243.90" width="39.10" height="64.32" fill="#4434d0" opacity="0.6"/>
<rect x="215.06" y="250.71" width="31.16" height="55.05" fill="#000" filter="url(#n59)" />
<rect x="253.56" y="268.02" width="13.44" height="42.68" fill="#4435d2" />
<rect x="203.46" y="306.74" width="39.10" height="3.96" fill="url(#g60)" />
<polygon points="162.15,187.00 190.62,187.00 191.85,310.70 165.57,310.70" fill="url(#g61)" />
<polygon points="164.35,281.01 179.63,281.01 180.24,310.70 165.57,310.70" fill="url(#g62)" />
<polygon points="190.01,187.00 201.62,187.00 202.60,310.70 192.46,310.70" fill="url(#g63)" />
<polygon points="160.69,187.00 163.13,187.00 166.55,310.70 164.11,310.70" fill="url(#g64)" opacity="0.6"/>
<polygon points="163.13,187.00 201.62,187.00 202.60,310.70 165.57,310.70" fill="#000" filter="url(#s65)" opacity="0.28"/>
<polygon points="189.53,187.00 190.50,187.00 192.34,310.70 191.11,310.70" fill="url(#g66)" />
<line x1="191.85" y1="242.66" x2="193.44" y2="310.70" stroke="#12beb9" stroke-width="0.45" />
<line x1="193.07" y1="285.96" x2="202.23" y2="282.87" stroke="#05b6ce" stroke-width="0.50" />
<g transform="rotate(-14 170.46 266.79)">
<path d="M170.46 255.65 C170.85 260.11 175.26 261.67 175.26 267.90 C175.26 273.91 173.34 277.92 170.46 277.92 C167.58 277.92 165.66 273.91 165.66 267.90 C165.66 261.67 170.08 260.11 170.46 255.65 Z" fill="#fdbd3d"/>
<path d="M171.66 258.13 C171.91 261.96 174.76 263.30 174.76 268.67 C174.76 273.85 173.52 277.30 171.66 277.30 C169.80 277.30 168.56 273.85 168.56 268.67 C168.56 263.30 171.41 261.96 171.66 258.13 Z" fill="#f6f020"/>
</g>
<line x1="176.82" y1="261.84" x2="177.06" y2="267.40" stroke="#2d8cf3" stroke-width="0.50" />
<line x1="169.85" y1="277.30" x2="170.46" y2="285.96" stroke="#9fc942" stroke-width="0.50" />
</g>
<g clip-path="url(#c22)">
<rect x="282.70" y="187.00" width="122.20" height="123.70" fill="#402bb7" />
<rect x="282.70" y="187.00" width="122.20" height="123.70" fill="#000" filter="url(#n67)" />
<rect x="282.70" y="243.90" width="24.44" height="66.80" fill="#000" filter="url(#n68)" />
<rect x="352.96" y="187.00" width="32.38" height="55.66" fill="#000" filter="url(#n69)" />
<rect x="354.19" y="250.09" width="29.94" height="55.05" fill="#000" filter="url(#n69)" />
<rect x="390.85" y="236.48" width="10.39" height="39.58" fill="#000" filter="url(#n69)" />
<rect x="338.91" y="199.37" width="14.05" height="111.33" fill="#3e26a8" opacity="0.7"/>
<rect x="385.96" y="187.00" width="6.72" height="123.70" fill="#3e26a8" opacity="0.5"/>
<path d="M326.69 187.00 L349.30 187.00 L349.30 194.42 Q348.08 199.37 339.16 201.23 L339.65 310.70 L326.69 310.70 Z" fill="#000" filter="url(#n70)"/>
<polygon points="300.42,187.00 328.65,187.00 329.87,310.70 303.23,310.70" fill="#000" filter="url(#n71)" />
<polygon points="300.42,211.74 340.13,211.74 340.13,310.70 303.23,310.70" fill="url(#g72)" clip-path="url(#lf2)"/>
<line x1="328.16" y1="187.00" x2="329.50" y2="310.70" stroke="#249fe6" stroke-width="0.70" />
<line x1="329.26" y1="187.00" x2="330.48" y2="310.70" stroke="#484aee" stroke-width="0.50" />
<line x1="330.36" y1="215.45" x2="338.30" y2="212.36" stroke="#4743e7" stroke-width="0.50" />
<line x1="330.97" y1="269.26" x2="338.91" y2="266.17" stroke="#484aee" stroke-width="0.50" />
<g clip-path="url(#lf2)">
<path d="M308.12 252.81 C308.58 258.00 313.92 259.82 313.92 267.10 C313.92 274.11 311.60 278.79 308.12 278.79 C304.64 278.79 302.32 274.11 302.32 267.10 C302.32 259.82 307.65 258.00 308.12 252.81 Z" fill="#04bbc2"/>
<path d="M308.22 255.04 C308.63 259.66 313.32 261.28 313.32 267.76 C313.32 274.00 311.28 278.17 308.22 278.17 C305.16 278.17 303.12 274.00 303.12 267.76 C303.12 261.28 307.81 259.66 308.22 255.04 Z" fill="#c1c32d"/>
<path d="M308.82 259.36 C309.12 262.95 312.62 264.21 312.62 269.23 C312.62 274.07 311.10 277.30 308.82 277.30 C306.54 277.30 305.02 274.07 305.02 269.23 C305.02 264.21 308.51 262.95 308.82 259.36 Z" fill="#f6e028"/>
<path d="M308.22 255.04 C308.63 259.66 313.32 261.28 313.32 267.76 C313.32 274.00 311.28 278.17 308.22 278.17 C305.16 278.17 303.12 274.00 303.12 267.76 C303.12 261.28 307.81 259.66 308.22 255.04 Z" fill="#000" filter="url(#s73)" opacity="0.7"/>
</g>
<line x1="308.12" y1="277.92" x2="308.36" y2="284.10" stroke="#05b6ce" stroke-width="0.50" />
<line x1="308.12" y1="248.85" x2="308.12" y2="253.80" stroke="#1caadf" stroke-width="0.40" />
</g>
<g clip-path="url(#c23)">
<rect x="420.40" y="187.00" width="122.20" height="123.70" fill="#402bb7" />
<rect x="420.40" y="187.00" width="122.20" height="123.70" fill="#000" filter="url(#n74)" />
<rect x="420.40" y="243.90" width="24.44" height="66.80" fill="#000" filter="url(#n75)" />
<rect x="490.66" y="187.00" width="32.38" height="55.66" fill="#000" filter="url(#n76)" />
<rect x="491.89" y="250.09" width="29.94" height="55.05" fill="#000" filter="url(#n76)" />
<rect x="528.55" y="236.48" width="10.39" height="39.58" fill="#000" filter="url(#n76)" />
<rect x="476.61" y="199.37" width="14.05" height="111.33" fill="#3e26a8" opacity="0.7"/>
<rect x="523.66" y="187.00" width="6.72" height="123.70" fill="#3e26a8" opacity="0.5"/>
<path d="M464.39 187.00 L487.00 187.00 L487.00 194.42 Q485.78 199.37 476.86 201.23 L477.35 310.70 L464.39 310.70 Z" fill="#000" filter="url(#n77)"/>
<polygon points="438.12,187.00 466.35,187.00 467.57,310.70 440.93,310.70" fill="#000" filter="url(#n78)" />
<polygon points="438.12,211.74 477.83,211.74 477.83,310.70 440.93,310.70" fill="url(#g79)" clip-path="url(#lf3)"/>
<line x1="465.86" y1="187.00" x2="467.20" y2="310.70" stroke="#0eb3d4" stroke-width="0.70" />
<line x1="466.96" y1="187.00" x2="468.18" y2="310.70" stroke="#484aee" stroke-width="0.50" />
<line x1="468.06" y1="215.45" x2="476.00" y2="212.36" stroke="#4743e7" stroke-width="0.50" />
<line x1="468.67" y1="269.26" x2="476.61" y2="266.17" stroke="#484aee" stroke-width="0.50" />
<g clip-path="url(#lf3)">
<path d="M445.82 252.81 C446.28 258.00 451.62 259.82 451.62 267.10 C451.62 274.11 449.30 278.79 445.82 278.79 C442.34 278.79 440.02 274.11 440.02 267.10 C440.02 259.82 445.35 258.00 445.82 252.81 Z" fill="#04bbc2"/>
<path d="M445.92 255.04 C446.33 259.66 451.02 261.28 451.02 267.76 C451.02 274.00 448.98 278.17 445.92 278.17 C442.86 278.17 440.82 274.00 440.82 267.76 C440.82 261.28 445.51 259.66 445.92 255.04 Z" fill="#c1c32d"/>
<path d="M446.52 259.36 C446.82 262.95 450.32 264.21 450.32 269.23 C450.32 274.07 448.80 277.30 446.52 277.30 C444.24 277.30 442.72 274.07 442.72 269.23 C442.72 264.21 446.21 262.95 446.52 259.36 Z" fill="#f5ea24"/>
</g>
<line x1="445.82" y1="277.92" x2="446.06" y2="284.10" stroke="#05b6ce" stroke-width="0.50" />
<line x1="445.82" y1="248.85" x2="445.82" y2="253.80" stroke="#1caadf" stroke-width="0.40" />
</g>
<rect x="6.20" y="14.05" width="121.50" height="116.60" fill="none" fill="none" stroke="#262626" stroke-width="0.5" stroke-opacity="0.55"/>
<rect x="6.20" y="187.00" width="122.20" height="123.70" fill="none" fill="none" stroke="#262626" stroke-width="0.5" stroke-opacity="0.55"/>
<rect x="6.20" y="317.20" width="122.20" height="10.30" fill="url(#g80)" />
<rect x="6.20" y="317.20" width="122.20" height="10.30" fill="none" fill="none" stroke="#262626" stroke-width="0.5" stroke-opacity="0.55"/>
<rect x="144.80" y="14.05" width="122.20" height="117.35" fill="none" fill="none" stroke="#262626" stroke-width="0.5" stroke-opacity="0.55"/>
<rect x="144.80" y="187.00" width="122.20" height="123.70" fill="none" fill="none" stroke="#262626" stroke-width="0.5" stroke-opacity="0.55"/>
<rect x="144.80" y="137.60" width="122.20" height="10.30" fill="url(#g80)" />
<rect x="144.80" y="137.60" width="122.20" height="10.30" fill="none" fill="none" stroke="#262626" stroke-width="0.5" stroke-opacity="0.55"/>
<rect x="144.80" y="317.20" width="122.20" height="10.30" fill="url(#g80)" />
<rect x="144.80" y="317.20" width="122.20" height="10.30" fill="none" fill="none" stroke="#262626" stroke-width="0.5" stroke-opacity="0.55"/>
<rect x="282.70" y="14.05" width="122.20" height="117.35" fill="none" fill="none" stroke="#262626" stroke-width="0.5" stroke-opacity="0.55"/>
<rect x="282.70" y="187.00" width="122.20" height="123.70" fill="none" fill="none" stroke="#262626" stroke-width="0.5" stroke-opacity="0.55"/>
<rect x="282.70" y="137.60" width="122.20" height="10.30" fill="url(#g80)" />
<rect x="282.70" y="137.60" width="122.20" height="10.30" fill="none" fill="none" stroke="#262626" stroke-width="0.5" stroke-opacity="0.55"/>
<rect x="282.70" y="317.20" width="122.20" height="10.30" fill="url(#g80)" />
<rect x="282.70" y="317.20" width="122.20" height="10.30" fill="none" fill="none" stroke="#262626" stroke-width="0.5" stroke-opacity="0.55"/>
<rect x="420.40" y="14.05" width="122.20" height="117.35" fill="none" fill="none" stroke="#262626" stroke-width="0.5" stroke-opacity="0.55"/>
<rect x="420.40" y="187.00" width="122.20" height="123.70" fill="none" fill="none" stroke="#262626" stroke-width="0.5" stroke-opacity="0.55"/>
<rect x="420.40" y="137.60" width="122.20" height="10.30" fill="url(#g80)" />
<rect x="420.40" y="137.60" width="122.20" height="10.30" fill="none" fill="none" stroke="#262626" stroke-width="0.5" stroke-opacity="0.55"/>
<rect x="420.40" y="317.20" width="122.20" height="10.30" fill="url(#g80)" />
<rect x="420.40" y="317.20" width="122.20" height="10.30" fill="none" fill="none" stroke="#262626" stroke-width="0.5" stroke-opacity="0.55"/>
<text x="67.05" y="10.90" class="t">(a) RGB image</text>
<text x="206.00" y="10.90" class="t">(b) NDVI</text>
<text x="343.90" y="10.90" class="t">(c) TCARI</text>
<text x="481.60" y="10.90" class="t">(d) PRI</text>
<text x="66.70" y="180.40" class="t">(e) F760<tspan dy="3.4" dx="0.6" font-size="6.7px">SFM</tspan></text>
<text x="205.30" y="180.40" class="t">(f) F760<tspan dy="3.4" dx="0.6" font-size="6.7px">iFLD</tspan></text>
<text x="343.20" y="180.40" class="t">(g) F687<tspan dy="3.4" dx="0.6" font-size="6.7px">SFM</tspan></text>
<text x="480.90" y="180.40" class="t">(h) F687<tspan dy="3.4" dx="0.6" font-size="6.7px">iFLD</tspan></text>
<text x="144.70" y="158.50" class="k">0</text>
<line x1="169.24" y1="146.70" x2="169.24" y2="147.90" stroke="#262626" stroke-width="0.50" opacity="0.7"/>
<text x="169.14" y="158.50" class="k">0.2</text>
<line x1="193.68" y1="146.70" x2="193.68" y2="147.90" stroke="#262626" stroke-width="0.50" opacity="0.7"/>
<text x="193.58" y="158.50" class="k">0.4</text>
<line x1="218.12" y1="146.70" x2="218.12" y2="147.90" stroke="#262626" stroke-width="0.50" opacity="0.7"/>
<text x="218.02" y="158.50" class="k">0.6</text>
<line x1="242.56" y1="146.70" x2="242.56" y2="147.90" stroke="#262626" stroke-width="0.50" opacity="0.7"/>
<text x="242.46" y="158.50" class="k">0.8</text>
<text x="266.90" y="158.50" class="k">1</text>
<text x="282.60" y="158.50" class="k">0</text>
<line x1="307.14" y1="146.70" x2="307.14" y2="147.90" stroke="#262626" stroke-width="0.50" opacity="0.7"/>
<text x="307.04" y="158.50" class="k">0.1</text>
<line x1="331.58" y1="146.70" x2="331.58" y2="147.90" stroke="#262626" stroke-width="0.50" opacity="0.7"/>
<text x="331.48" y="158.50" class="k">0.2</text>
<line x1="356.02" y1="146.70" x2="356.02" y2="147.90" stroke="#262626" stroke-width="0.50" opacity="0.7"/>
<text x="355.92" y="158.50" class="k">0.3</text>
<line x1="380.46" y1="146.70" x2="380.46" y2="147.90" stroke="#262626" stroke-width="0.50" opacity="0.7"/>
<text x="380.36" y="158.50" class="k">0.4</text>
<text x="404.80" y="158.50" class="k">0.5</text>
<text x="420.30" y="158.50" class="k">-0.1</text>
<line x1="450.95" y1="146.70" x2="450.95" y2="147.90" stroke="#262626" stroke-width="0.50" opacity="0.7"/>
<text x="450.85" y="158.50" class="k">-0.05</text>
<line x1="481.50" y1="146.70" x2="481.50" y2="147.90" stroke="#262626" stroke-width="0.50" opacity="0.7"/>
<text x="481.40" y="158.50" class="k">0</text>
<line x1="512.05" y1="146.70" x2="512.05" y2="147.90" stroke="#262626" stroke-width="0.50" opacity="0.7"/>
<text x="511.95" y="158.50" class="k">0.05</text>
<text x="542.50" y="158.50" class="k">0.1</text>
<text x="6.10" y="337.30" class="k">0</text>
<line x1="46.93" y1="326.30" x2="46.93" y2="327.50" stroke="#262626" stroke-width="0.50" opacity="0.7"/>
<text x="46.83" y="337.30" class="k">2</text>
<line x1="87.67" y1="326.30" x2="87.67" y2="327.50" stroke="#262626" stroke-width="0.50" opacity="0.7"/>
<text x="87.57" y="337.30" class="k">4</text>
<text x="128.30" y="337.30" class="k">6</text>
<text x="144.70" y="337.30" class="k">0</text>
<line x1="185.53" y1="326.30" x2="185.53" y2="327.50" stroke="#262626" stroke-width="0.50" opacity="0.7"/>
<text x="185.43" y="337.30" class="k">2</text>
<line x1="226.27" y1="326.30" x2="226.27" y2="327.50" stroke="#262626" stroke-width="0.50" opacity="0.7"/>
<text x="226.17" y="337.30" class="k">4</text>
<text x="266.90" y="337.30" class="k">6</text>
<text x="282.60" y="337.30" class="k">0</text>
<line x1="323.43" y1="326.30" x2="323.43" y2="327.50" stroke="#262626" stroke-width="0.50" opacity="0.7"/>
<text x="323.33" y="337.30" class="k">2</text>
<line x1="364.17" y1="326.30" x2="364.17" y2="327.50" stroke="#262626" stroke-width="0.50" opacity="0.7"/>
<text x="364.07" y="337.30" class="k">4</text>
<text x="404.80" y="337.30" class="k">6</text>
<text x="420.30" y="337.30" class="k">0</text>
<line x1="461.13" y1="326.30" x2="461.13" y2="327.50" stroke="#262626" stroke-width="0.50" opacity="0.7"/>
<text x="461.03" y="337.30" class="k">2</text>
<line x1="501.87" y1="326.30" x2="501.87" y2="327.50" stroke="#262626" stroke-width="0.50" opacity="0.7"/>
<text x="501.77" y="337.30" class="k">4</text>
<text x="542.50" y="337.30" class="k">6</text>
<text x="272.9" y="348.7" class="u">[mW m<tspan dy="-3" font-size="6.3px">-2</tspan><tspan dy="3"> sr</tspan><tspan dy="-3" font-size="6.3px">-1</tspan><tspan dy="3"> nm</tspan><tspan dy="-3" font-size="6.3px">-1</tspan><tspan dy="3">]</tspan></text>
</svg></body></html>
